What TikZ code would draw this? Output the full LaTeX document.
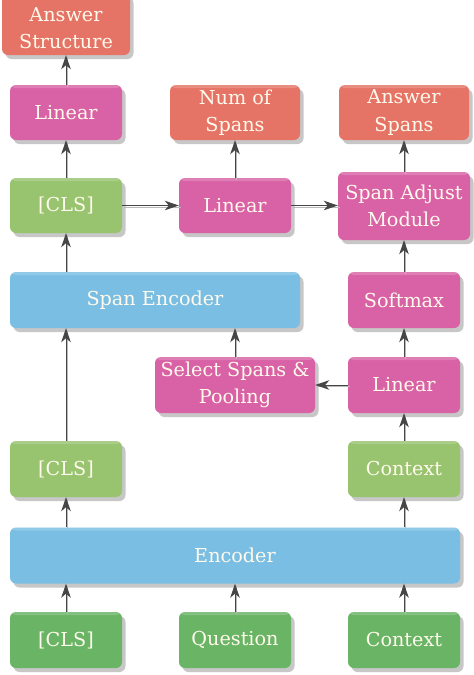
\documentclass[tikz,border=0pt]{standalone}
\usepackage{fontspec}
\setmainfont{DejaVu Serif}
\usetikzlibrary{shadows,arrows.meta}
\definecolor{cred}{RGB}{229,116,102}
\definecolor{cpink}{RGB}{216,98,165}
\definecolor{clgreen}{RGB}{152,196,112}
\definecolor{cblue}{RGB}{122,190,228}
\definecolor{cdgreen}{RGB}{106,180,102}
\definecolor{ctext}{RGB}{255,250,236}
\definecolor{carrow}{RGB}{70,70,70}
\tikzset{
  box/.style={rounded corners=6pt, inner sep=0pt, align=center, text=ctext,
    font=\fontsize{19.2}{27.5}\selectfont,
    drop shadow={shadow xshift=3.5pt, shadow yshift=-4pt, fill=black!22, opacity=1},
    path picture={\fill[white,opacity=0.18] ([yshift=1pt]path picture bounding box.north west) rectangle ([yshift=-3pt]path picture bounding box.north east);}},
  redbox/.style={box, fill=cred},
  pinkbox/.style={box, fill=cpink},
  lgbox/.style={box, fill=clgreen},
  bluebox/.style={box, fill=cblue},
  dgbox/.style={box, fill=cdgreen},
  arr/.style={draw=carrow, line width=1pt, -{Stealth[length=14pt,width=9.5pt,inset=4pt]},
    preaction={draw=black!28, line width=1pt, -, transform canvas={xshift=1.8pt,yshift=-1.8pt}}},
}
\begin{document}
\begin{tikzpicture}[x=1pt,y=-1pt]
\useasboundingbox[fill=white] (0,0) rectangle (474,675);
% nodes
\node[redbox, minimum width=128pt, minimum height=62pt] (ansstruct) at (66,24) {};
\node[text=ctext, font=\fontsize{19.2}{27.5}\selectfont, align=center, inner sep=0pt] (ansstructtext) at (66,28) {Answer\\Structure};
\node[pinkbox, minimum width=112pt, minimum height=55pt] (linL) at (66,112.5) {Linear};
\node[lgbox, minimum width=112pt, minimum height=55pt] (clsU) at (66,205.5) {[CLS]};
\node[pinkbox, minimum width=112pt, minimum height=55pt] (linM) at (235,205.5) {Linear};
\node[redbox, minimum width=130pt, minimum height=55pt] (numspans) at (235,112.5) {Num of\\Spans};
\node[redbox, minimum width=130pt, minimum height=55pt] (ansspans) at (404,112.5) {Answer\\Spans};
\node[pinkbox, minimum width=132pt, minimum height=68pt] (spanadj) at (404,206) {Span Adjust\\Module};
\node[pinkbox, minimum width=112pt, minimum height=56pt] (softmax) at (404,300) {Softmax};
\node[bluebox, minimum width=290pt, minimum height=56pt] (spanenc) at (155,300) {Span Encoder};
\node[pinkbox, minimum width=160pt, minimum height=56pt] (select) at (235,385) {Select Spans \&\\Pooling};
\node[pinkbox, minimum width=112pt, minimum height=56pt] (linR) at (404,385) {Linear};
\node[lgbox, minimum width=112pt, minimum height=56pt] (ctxL) at (404,469) {Context};
\node[lgbox, minimum width=112pt, minimum height=56pt] (clsL) at (66,469) {[CLS]};
\node[bluebox, minimum width=450pt, minimum height=56pt] (enc) at (235,555.5) {Encoder};
\node[dgbox, minimum width=112pt, minimum height=56pt] (clsD) at (66,640) {[CLS]};
\node[dgbox, minimum width=112pt, minimum height=56pt] (question) at (235,640) {Question};
\node[dgbox, minimum width=112pt, minimum height=56pt] (ctxD) at (404,640) {Context};
% arrows
\draw[arr] (clsD.north) -- (clsD.north |- enc.south);
\draw[arr] (question.north) -- (question.north |- enc.south);
\draw[arr] (ctxD.north) -- (ctxD.north |- enc.south);
\draw[arr] (clsL.north |- enc.north) -- (clsL.south);
\draw[arr] (ctxL.north |- enc.north) -- (ctxL.south);
\draw[arr] (clsL.north) -- (clsL.north |- spanenc.south);
\draw[arr] (clsU.south |- spanenc.north) -- (clsU.south);
\draw[arr] (clsU.north) -- (linL.south);
\draw[arr] (linL.north) -- (ansstruct.south);
\draw[arr] (ctxL.north) -- (linR.south);
\draw[arr] (linR.north) -- (softmax.south);
\draw[arr] (softmax.north) -- (spanadj.south);
\draw[arr] (spanadj.north) -- (ansspans.south);
\draw[arr] (linR.west) -- (select.east);
\draw[arr] (select.north) -- (select.north |- spanenc.south);
\draw[arr] (clsU.east) -- (linM.west);
\draw[arr] (linM.east) -- (linM.east -| spanadj.west);
\draw[arr] (linM.north) -- (numspans.south);
\end{tikzpicture}
\end{document}
